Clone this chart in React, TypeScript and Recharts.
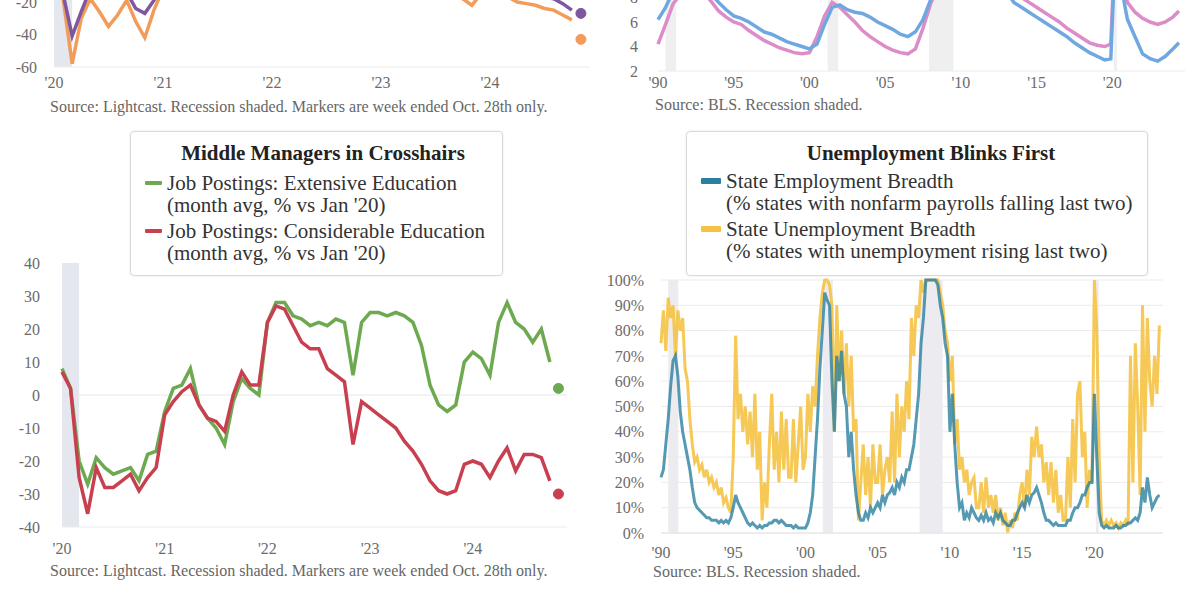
import { ComposedChart, Line, XAxis, YAxis, CartesianGrid, ReferenceArea, ReferenceLine } from 'recharts';

const SERIF = '"Liberation Serif", "Times New Roman", serif';
const TICK = { fontSize: 16, fill: '#6b6b6b' };

// top-left panel (only its lower edge is on the page): monthly, Jan '20 = 0
const tlOrange = [0, -18, -58, -30, -18, -26, -35, -28, -19, -32, -42, -25, -12, -6, 2, 8, 12, 16, 20, 24, 28, 30, 32, 34, 36, 35, 33, 30, 28, 24, 20, 16, 12, 8, 5, 2, 0, -3, -5, -8, -10, -12, -14, -15, -16, -18, -22, -15, -12, -14, -17, -20, -21, -22, -24, -25, -28, -31];
const tlPurple = [0, -15, -41, -26, -12, -10, -15, -12, -14, -24, -27, -19, -10, -5, 0, 5, 10, 14, 18, 22, 25, 27, 30, 32, 33, 32, 30, 28, 25, 22, 18, 15, 12, 9, 6, 4, 2, 0, -2, -4, -6, -8, -9, -10, -11, -12, -13, -12, -11, -12, -13, -14, -15, -16, -17, -18, -21, -25];
const tlOrangeMark = -43;
const tlPurpleMark = -27;

// top-right panel (only its lower edge is on the page)
const trYears = [1990, 1990.5, 1991, 1992, 1993, 1994, 1994.5, 1995, 1995.5, 1996, 1996.5, 1997, 1997.5, 1998, 1998.5, 1999, 1999.5, 2000, 2000.5, 2001, 2001.5, 2002, 2002.5, 2003, 2003.5, 2004, 2004.5, 2005, 2005.5, 2006, 2006.5, 2007, 2007.5, 2008, 2008.5, 2009, 2010, 2011, 2012, 2013, 2013.5, 2014, 2014.5, 2015, 2015.5, 2016, 2016.5, 2017, 2017.5, 2018, 2018.5, 2019, 2019.5, 2019.9, 2020.2, 2020.5, 2020.8, 2021, 2021.5, 2022, 2022.5, 2023, 2023.5, 2024, 2024.4];
const trBlue = [6.2, 7.2, 8.5, 9.5, 9.0, 7.6, 7.0, 6.5, 6.3, 6.0, 5.6, 5.2, 5.0, 4.7, 4.4, 4.2, 4.0, 3.8, 4.2, 5.8, 7.2, 7.4, 7.0, 6.8, 6.7, 6.4, 6.0, 5.7, 5.4, 5.0, 4.8, 5.2, 6.2, 7.8, 9.5, 11.0, 11.5, 10.5, 9.5, 8.5, 7.6, 7.2, 6.8, 6.4, 6.0, 5.6, 5.2, 4.8, 4.3, 3.9, 3.5, 3.2, 2.9, 3.0, 12.0, 10.0, 7.5, 6.2, 4.8, 3.4, 3.0, 2.8, 3.2, 3.8, 4.3];
const trPink = [4.2, 5.8, 7.5, 9.0, 8.5, 6.9, 6.4, 6.0, 5.8, 5.3, 4.9, 4.5, 4.2, 3.9, 3.7, 3.5, 3.4, 3.5, 4.8, 6.5, 7.6, 7.2, 6.6, 6.0, 5.3, 4.8, 4.4, 4.0, 3.7, 3.5, 3.4, 3.8, 5.5, 7.5, 9.0, 10.5, 11.0, 10.5, 9.8, 9.0, 8.5, 8.0, 7.6, 7.2, 6.8, 6.4, 6.0, 5.5, 5.1, 4.7, 4.3, 4.1, 4.0, 4.2, 13.0, 11.0, 8.5, 7.6, 6.8, 6.3, 6.0, 5.8, 6.0, 6.4, 6.9];

// bottom-left: Middle Managers in Crosshairs, monthly, Jan '20 = 0
const blExtensive = [8, 2, -20, -27, -19, -22, -24, -23, -22, -26, -18, -17, -5, 2, 3, 8, -3, -7, -10, -15, -2, 5, 2, 0, 22, 28, 28, 24, 23, 21, 22, 21, 23, 22, 6, 22, 25, 25, 24, 25, 24, 22, 15, 3, -3, -5, -3, 10, 13, 11, 6, 22, 28, 22, 20, 16, 20, 10];
const blConsiderable = [7, 2, -25, -36, -22, -28, -28, -26, -24, -29, -25, -22, -6, -2, 1, 3, -3, -7, -8, -11, 0, 7, 3, 3, 22, 27, 26, 21, 16, 14, 14, 8, 6, 4, -15, -2, -4, -6, -8, -10, -14, -17, -21, -26, -29, -30, -29, -21, -20, -21, -25, -20, -16, -23, -18, -18, -19, -26];
const blExtensiveMark = 2;
const blConsiderableMark = -30;

// bottom-right: Unemployment Blinks First, every two months from Jan 1990
const brStart = 1990;
const brUnemployment = [
  75, 88, 72, 93, 85, 90, // 1990
  70, 88, 80, 85, 65, 60, // 1991
  45, 35, 28, 30, 25, 27, // 1992
  22, 25, 20, 22, 18, 20, // 1993
  15, 18, 12, 14, 10, 8, // 1994
  30, 78, 45, 55, 40, 50, // 1995
  35, 48, 30, 55, 25, 40, // 1996
  5, 20, 10, 35, 55, 25, // 1997
  40, 20, 48, 25, 45, 22, // 1998
  22, 45, 20, 35, 50, 25, // 1999
  30, 55, 40, 58, 50, 70, // 2000
  85, 95, 100, 100, 98, 90, // 2001
  40, 90, 60, 80, 55, 75, // 2002
  50, 70, 40, 45, 5, 20, // 2003
  35, 15, 30, 10, 35, 20, // 2004
  20, 35, 15, 25, 30, 20, // 2005
  48, 20, 55, 30, 50, 40, // 2006
  60, 45, 85, 70, 90, 85, // 2007
  100, 95, 100, 100, 100, 100, // 2008
  100, 100, 95, 90, 80, 75, // 2009
  60, 70, 35, 45, 25, 30, // 2010
  20, 25, 15, 20, 22, 10, // 2011
  10, 20, 8, 22, 10, 15, // 2012
  8, 15, 5, 10, 3, 8, // 2013
  0, 5, 2, 8, 5, 15, // 2014
  20, 10, 25, 15, 38, 30, // 2015
  42, 30, 35, 20, 28, 15, // 2016
  28, 12, 25, 8, 15, 5, // 2017
  5, 30, 10, 45, 20, 55, // 2018
  60, 30, 40, 10, 25, 20, // 2019
  100, 80, 30, 5, 3, 5, // 2020
  3, 5, 3, 4, 2, 4, // 2021
  3, 5, 3, 70, 20, 75, // 2022
  50, 15, 90, 40, 85, 60, // 2023
  50, 70, 55, 82, // 2024
];
const brEmployment = [
  22, 25, 35, 45, 58, 68, // 1990
  70, 62, 48, 40, 35, 30, // 1991
  25, 18, 12, 10, 9, 8, // 1992
  7, 6, 6, 5, 5, 5, // 1993
  4, 5, 4, 5, 4, 6, // 1994
  10, 15, 12, 10, 8, 6, // 1995
  4, 3, 4, 3, 2, 3, // 1996
  2, 3, 3, 4, 4, 5, // 1997
  5, 4, 5, 4, 3, 3, // 1998
  3, 2, 3, 2, 2, 2, // 1999
  2, 4, 8, 15, 30, 45, // 2000
  65, 80, 95, 92, 90, 60, // 2001
  40, 70, 60, 72, 55, 50, // 2002
  30, 40, 25, 15, 8, 5, // 2003
  5, 8, 6, 10, 8, 10, // 2004
  12, 10, 15, 12, 15, 16, // 2005
  18, 15, 20, 18, 22, 20, // 2006
  25, 25, 30, 35, 45, 55, // 2007
  75, 85, 100, 100, 100, 100, // 2008
  100, 98, 90, 85, 75, 70, // 2009
  40, 55, 35, 20, 10, 12, // 2010
  5, 8, 6, 10, 8, 6, // 2011
  5, 7, 5, 8, 5, 6, // 2012
  4, 8, 6, 8, 5, 4, // 2013
  3, 3, 5, 5, 8, 10, // 2014
  12, 10, 15, 12, 15, 16, // 2015
  18, 15, 12, 8, 5, 5, // 2016
  4, 3, 4, 3, 3, 3, // 2017
  3, 5, 5, 8, 10, 10, // 2018
  12, 15, 15, 18, 20, 20, // 2019
  55, 30, 8, 3, 2, 3, // 2020
  2, 2, 2, 3, 2, 2, // 2021
  3, 3, 4, 4, 5, 6, // 2022
  5, 8, 18, 12, 22, 15, // 2023
  10, 12, 14, 15, // 2024
];

const monthTicks = [0, 12, 24, 36, 48];
const monthTickLabels = ["'20", "'21", "'22", "'23", "'24"];
const yearTicks = [1990, 1995, 2000, 2005, 2010, 2015, 2020];
const recessions = [[1990.5, 1991.2], [2001.2, 2001.9], [2007.9, 2009.5], [2020.1, 2020.3]];
const covidMonths = [0, 2];

const ORANGE = '#f39c5a';
const PURPLE = '#7e57a0';
const BLUE = '#6fa8e0';
const PINK = '#dc8cc8';
const GREEN = '#6da950';
const RED = '#c8404f';
const TEAL = '#2a7fa0';
const YELLOW = '#f5c242';

function monthRows(a: number[], b: number[], markA: number, markB: number) {
  const rows: any[] = a.map((v, i) => ({ m: i, a: v, b: b[i], ma: null, mb: null }));
  rows.push({ m: a.length, a: null, b: null, ma: markA, mb: markB });
  return rows;
}

const monthLabel = (v: number) => monthTickLabels[monthTicks.indexOf(v)] ?? '';
const yearLabel = (v: number) => `'${String(v).slice(2)}`;

const sourceStyle: React.CSSProperties = {
  position: 'absolute', fontSize: 16, color: '#666', whiteSpace: 'nowrap', lineHeight: '18px',
};

function LegendBox(props: {
  left: number; top: number; width: number; textLeft: number; titleWidth: number; title: string;
  items: { color: string; thick: number; top: number; lines: string[] }[];
}) {
  const { left, top, width, textLeft, titleWidth, title, items } = props;
  return (
    <div style={{
      position: 'absolute', left, top, width, height: 145, boxSizing: 'border-box',
      border: '1px solid #d9d9d9', borderRadius: 4, background: '#fff',
      boxShadow: '0 0 3px rgba(0,0,0,0.08)', fontSize: 21, lineHeight: '22px', color: '#333',
    }}>
      <div style={{ position: 'absolute', left: textLeft, top: 10, width: titleWidth, textAlign: 'center', fontWeight: 'bold', color: '#222', whiteSpace: 'nowrap' }}>
        {title}
      </div>
      {items.map((it, i) => (
        <div key={i}>
          <div style={{ position: 'absolute', left: 14, top: it.top + 11 - it.thick / 2, width: textLeft - 19, height: it.thick, background: it.color, borderRadius: 1 }} />
          <div style={{ position: 'absolute', left: textLeft, top: it.top, whiteSpace: 'nowrap' }}>
            {it.lines.map((l, j) => <div key={j}>{l}</div>)}
          </div>
        </div>
      ))}
    </div>
  );
}

export default function App() {
  const tlData = monthRows(tlOrange, tlPurple, tlOrangeMark, tlPurpleMark);
  const blData = monthRows(blExtensive, blConsiderable, blExtensiveMark, blConsiderableMark);
  const trData = trYears.map((y, i) => ({ y, blue: trBlue[i], pink: trPink[i] }));
  const brData = brUnemployment.map((u, i) => ({ y: brStart + i / 6, emp: brEmployment[i], unemp: u }));
  const lastLabels = [brEmployment[brEmployment.length - 1], brUnemployment[brUnemployment.length - 1]];

  return (
    <div style={{ position: 'fixed', left: 0, top: 0, width: 1192, height: 600, overflow: 'hidden', background: '#fff', fontFamily: SERIF }}>
      {/* top-left */}
      <div style={{ position: 'absolute', left: 0, top: -140 }}>
        <ComposedChart width={596} height={235} data={tlData} margin={{ top: 12, right: 6, bottom: 0, left: 0 }}>
          <ReferenceArea x1={covidMonths[0]} x2={covidMonths[1]} fill="#e4e7ee" fillOpacity={1} stroke="none" />
          <XAxis dataKey="m" type="number" domain={[0, 59]} ticks={monthTicks} tickFormatter={monthLabel}
            height={28} tickLine={false} tickMargin={4} axisLine={{ stroke: '#ececec' }} tick={TICK} />
          <YAxis domain={[-60, 60]} ticks={[-60, -40, -20, 0, 20, 40, 60]} width={54}
            axisLine={false} tickLine={false} tickMargin={11} tick={TICK} />
          <Line dataKey="a" stroke={ORANGE} strokeWidth={3.5} dot={false} isAnimationActive={false} />
          <Line dataKey="b" stroke={PURPLE} strokeWidth={3.5} dot={false} isAnimationActive={false} />
          <Line dataKey="ma" stroke="none" dot={{ r: 5, fill: ORANGE, stroke: ORANGE }} isAnimationActive={false} />
          <Line dataKey="mb" stroke="none" dot={{ r: 5, fill: PURPLE, stroke: PURPLE }} isAnimationActive={false} />
        </ComposedChart>
      </div>
      <div style={{ ...sourceStyle, left: 50, top: 98 }}>
        Source: Lightcast. Recession shaded. Markers are week ended Oct. 28th only.
      </div>

      {/* top-right */}
      <div style={{ position: 'absolute', left: 596, top: -90 }}>
        <ComposedChart width={596} height={191} data={trData} margin={{ top: 14, right: 7, bottom: 0, left: 0 }}>
          {recessions.map(([a, b]) => (
            <ReferenceArea key={a} x1={a} x2={b} fill="#efefef" fillOpacity={1} stroke="none" />
          ))}
          <XAxis dataKey="y" type="number" domain={[1990, 2024.8]} ticks={yearTicks} tickFormatter={yearLabel}
            height={30} tickLine={false} tickMargin={0} axisLine={{ stroke: '#ececec' }} tick={TICK} />
          <YAxis domain={[2, 14]} ticks={[2, 4, 6, 8, 10, 12, 14]} width={62}
            axisLine={false} tickLine={false} tickMargin={14} tick={TICK} />
          <Line dataKey="pink" stroke={PINK} strokeWidth={3.5} dot={false} isAnimationActive={false} />
          <Line dataKey="blue" stroke={BLUE} strokeWidth={3.5} dot={false} isAnimationActive={false} />
        </ComposedChart>
      </div>
      <div style={{ ...sourceStyle, left: 655, top: 96 }}>Source: BLS. Recession shaded.</div>

      {/* bottom-left */}
      <div style={{ position: 'absolute', left: 0, top: 250 }}>
        <ComposedChart width={590} height={310} data={blData} margin={{ top: 13, right: 23, bottom: 0, left: 0 }}>
          <ReferenceArea x1={covidMonths[0]} x2={covidMonths[1]} fill="#e4e7ee" fillOpacity={1} stroke="none" />
          <ReferenceLine y={0} stroke="#e6e6e6" />
          <XAxis dataKey="m" type="number" domain={[0, 59]} ticks={monthTicks} tickFormatter={monthLabel}
            height={33} tickLine={false} tickMargin={10} axisLine={{ stroke: '#ececec' }} tick={TICK} />
          <YAxis domain={[-40, 40]} ticks={[-40, -30, -20, -10, 0, 10, 20, 30, 40]} width={62}
            axisLine={false} tickLine={false} tickMargin={16} tick={TICK} />
          <Line dataKey="a" stroke={GREEN} strokeWidth={3.5} dot={false} isAnimationActive={false} />
          <Line dataKey="b" stroke={RED} strokeWidth={3.5} dot={false} isAnimationActive={false} />
          <Line dataKey="ma" stroke="none" dot={{ r: 5, fill: GREEN, stroke: GREEN }} isAnimationActive={false} />
          <Line dataKey="mb" stroke="none" dot={{ r: 5, fill: RED, stroke: RED }} isAnimationActive={false} />
        </ComposedChart>
      </div>
      <LegendBox left={130} top={131} width={373} textLeft={36} titleWidth={312}
        title="Middle Managers in Crosshairs"
        items={[
          { color: GREEN, thick: 4, top: 40, lines: ['Job Postings: Extensive Education', "(month avg, % vs Jan '20)"] },
          { color: RED, thick: 4, top: 88, lines: ['Job Postings: Considerable Education', "(month avg, % vs Jan '20)"] },
        ]} />
      <div style={{ ...sourceStyle, left: 50, top: 562 }}>
        Source: Lightcast. Recession shaded. Markers are week ended Oct. 28th only.
      </div>

      {/* bottom-right */}
      <div style={{ position: 'absolute', left: 596, top: 265 }}>
        <ComposedChart width={596} height={298} data={brData} margin={{ top: 15, right: 0, bottom: 0, left: 0 }}>
          <CartesianGrid vertical={false} stroke="#ebebeb" />
          {recessions.map(([a, b]) => (
            <ReferenceArea key={a} x1={a} x2={b} fill="#ececf0" fillOpacity={1} stroke="none" />
          ))}
          <XAxis dataKey="y" type="number" domain={[1990, 2024.75]} ticks={yearTicks} tickFormatter={yearLabel}
            height={30} tickLine={false} tickMargin={8} axisLine={{ stroke: '#e4e4e4' }} tick={TICK} />
          <YAxis domain={[0, 100]} ticks={[0, 10, 20, 30, 40, 50, 60, 70, 80, 90, 100]} width={65}
            tickFormatter={(v: number) => `${v}%`} axisLine={false} tickLine={false} tickMargin={11} tick={TICK} />
          <YAxis yAxisId="r" orientation="right" domain={[0, 100]} ticks={lastLabels} width={29}
            tickFormatter={(v: number) => `${v}%`} axisLine={false} tickLine={false} tickSize={0} tickMargin={2} tick={TICK} />
          <Line dataKey="unemp" stroke={YELLOW} strokeOpacity={0.9} strokeWidth={3} dot={false} isAnimationActive={false} />
          <Line dataKey="emp" stroke={TEAL} strokeOpacity={0.8} strokeWidth={3} dot={false} isAnimationActive={false} />
        </ComposedChart>
      </div>
      <LegendBox left={686} top={131} width={462} textLeft={39} titleWidth={410}
        title="Unemployment Blinks First"
        items={[
          { color: TEAL, thick: 6, top: 38, lines: ['State Employment Breadth', '(% states with nonfarm payrolls falling last two)'] },
          { color: YELLOW, thick: 6, top: 86, lines: ['State Unemployment Breadth', '(% states with unemployment rising last two)'] },
        ]} />
      <div style={{ ...sourceStyle, left: 653, top: 563 }}>Source: BLS. Recession shaded.</div>
    </div>
  );
}
